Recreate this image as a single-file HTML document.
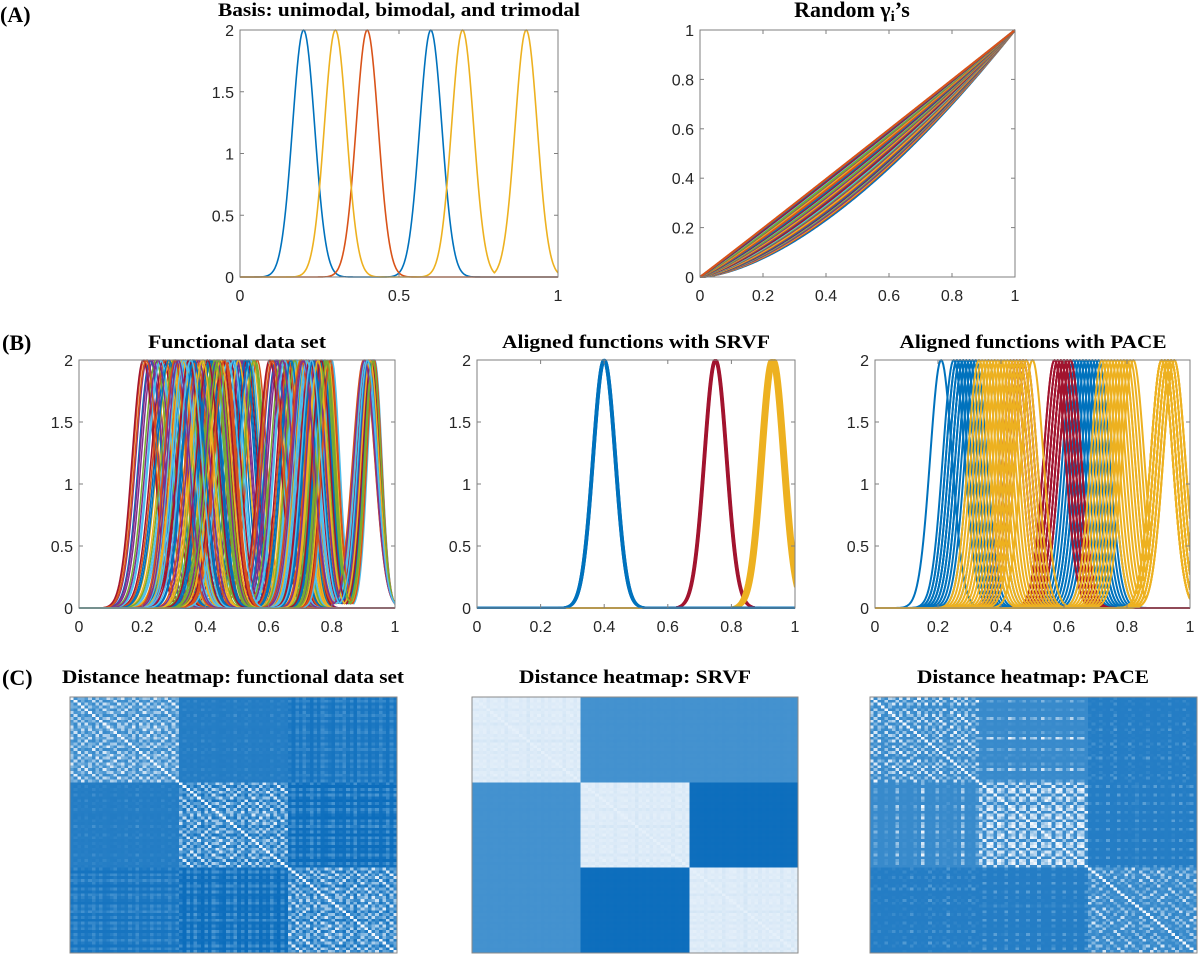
<!DOCTYPE html>
<html><head><meta charset="utf-8"><style>
body{margin:0;background:#fff;}
svg{display:block;}
.tk{font-family:"Liberation Sans",sans-serif;font-size:16px;fill:#262626;}
.ti{font-family:"Liberation Serif",serif;font-size:19px;font-weight:bold;fill:#000;}
.pl{font-family:"Liberation Serif",serif;font-size:22px;font-weight:bold;fill:#000;}
</style></head><body>
<svg id="fig" width="1200" height="955" viewBox="0 0 1200 955" xmlns="http://www.w3.org/2000/svg">
<text class="pl" x="0" y="22">(A)</text>
<text class="pl" x="2" y="350">(B)</text>
<text class="pl" x="2" y="685">(C)</text>
<text class="ti" x="399" y="16" text-anchor="middle" textLength="362" lengthAdjust="spacingAndGlyphs">Basis: unimodal, bimodal, and trimodal</text>
<text class="ti" x="852" y="17" text-anchor="middle" style="font-size:22px">Random γ<tspan style="font-size:15px" dy="4">i</tspan><tspan dy="-4">’s</tspan></text>
<text class="ti" x="237" y="348" text-anchor="middle" textLength="178" lengthAdjust="spacingAndGlyphs">Functional data set</text>
<text class="ti" x="636" y="348" text-anchor="middle" textLength="268" lengthAdjust="spacingAndGlyphs">Aligned functions with SRVF</text>
<text class="ti" x="1033" y="348" text-anchor="middle" textLength="267" lengthAdjust="spacingAndGlyphs">Aligned functions with PACE</text>
<text class="ti" x="233" y="683" text-anchor="middle" textLength="342" lengthAdjust="spacingAndGlyphs">Distance heatmap: functional data set</text>
<text class="ti" x="635" y="683" text-anchor="middle" textLength="232" lengthAdjust="spacingAndGlyphs">Distance heatmap: SRVF</text>
<text class="ti" x="1033" y="683" text-anchor="middle" textLength="232" lengthAdjust="spacingAndGlyphs">Distance heatmap: PACE</text>
</svg>
<script>
// ---- data ----
const basisBimodal = [0.2, 0.6];
const basisUnimodal = [0.4];
const basisTrimodal = [0.3, 0.7, 0.9];
const peakSigma = 0.035;
const gammaExponents = [1.32,1.05,1.48,1.18,1.57,1.26,1.02,1.41,1.11,1.53,1.36,1.22,1.08,1.45,1.29,1.60,1.14,1.38,1.01,1.50,1.24,1.43,1.09,1.34,1.19,1.55,1.28,1.04,1.47,1.16];
const srvfBlue = [0.398,0.400,0.402,0.399,0.401,0.403,0.397,0.400,0.402,0.398];
const srvfRed = [0.748,0.750,0.752,0.749,0.751,0.753,0.747,0.750,0.752,0.748];
const srvfYellow = [0.925,0.930,0.935,0.928,0.932,0.938,0.922,0.930,0.936,0.927];
const paceBlue = [0.27,0.66,0.29,0.21,0.68,0.25,0.30,0.64,0.28,0.70,0.26,0.33,0.67,0.27,0.62,0.29,0.72,0.31,0.65,0.28,0.69,0.36,0.26,0.67,0.30,0.63,0.28,0.71,0.32,0.66];
const paceRed = [0.58,0.44,0.60,0.61,0.47,0.59,0.57,0.43,0.62,0.60,0.46,0.58,0.61,0.48,0.59,0.60,0.45,0.62,0.57,0.59,0.44,0.61,0.60,0.47,0.58,0.62,0.45,0.59,0.60,0.46];
const paceYellow = [0.38,0.76,0.41,0.35,0.79,0.44,0.74,0.33,0.47,0.81,0.40,0.73,0.37,0.50,0.78,0.42,0.36,0.80,0.45,0.75,0.39,0.82,0.34,0.48,0.77,0.43,0.72,0.38,0.46,0.79];
const paceYellow2 = [0.91,0.92,0.93,0.94,0.92,0.95,0.91,0.93,0.92,0.94,0.93,0.92,0.91,0.94,0.93,0.92,0.95,0.93,0.91,0.92,0.94,0.93,0.92,0.91,0.95,0.93,0.92,0.94,0.91,0.93];
const srvfBlockLevels = [[0.05,0.6,0.6],[0.6,0.05,0.97],[0.6,0.97,0.05]];
const srvfJitter = [0.3,0.1,0.5,0.2,0.8,0.4,0.0,0.6,0.2,0.9,0.5,0.3,0.1,0.7,0.4,1.0,0.2,0.6,0.0,0.8,0.3,0.7,0.1,0.5,0.2,0.9,0.4,0.0,0.8,0.2];
const yTicksA1 = [0,0.5,1,1.5,2];
const xTicksA1 = [0,0.5,1];
const ticks01 = [0,0.2,0.4,0.6,0.8,1];
const ticks02 = [0,0.5,1,1.5,2];
const mcolors = ['#0072BD','#D95319','#EDB120','#7E2F8E','#77AC30','#4DBEEE','#A2142F'];

const NS='http://www.w3.org/2000/svg';
const svg=document.getElementById('fig');
function mk(tag,attrs,parent){const e=document.createElementNS(NS,tag);for(const k in attrs)e.setAttribute(k,attrs[k]);(parent||svg).appendChild(e);return e;}
function bump(t,cs){let v=0;for(const c of cs){const d=t-c;v=Math.max(v,2*Math.exp(-d*d/(2*peakSigma*peakSigma)));}return v;}
const NT=300;const grid=[];for(let i=0;i<=NT;i++)grid.push(i/NT);

function makeAxes(name,x0,x1,y0,y1,xd,yd,xt,yt){
  const g=mk('g',{});
  
  
  const sx=v=>x0+(v-xd[0])/(xd[1]-xd[0])*(x1-x0);
  const sy=v=>y1-(v-yd[0])/(yd[1]-yd[0])*(y1-y0);
  const clipId='c'+name;
  const cp=mk('clipPath',{id:clipId},g);mk('rect',{x:x0,y:y0-2,width:x1-x0,height:y1-y0+3},cp);
  const plot=mk('g',{'clip-path':'url(#'+clipId+')'},g);
  
  
  return {g,plot,sx,sy,finish(){
    mk('rect',{x:x0,y:y0,width:x1-x0,height:y1-y0,fill:'none',stroke:'#7f7f7f','stroke-width':1},g);
    for(const v of xt){const x=sx(v);
      mk('line',{x1:x,x2:x,y1:y1,y2:y1-4,stroke:'#7f7f7f'},g);mk('line',{x1:x,x2:x,y1:y0,y2:y0+4,stroke:'#7f7f7f'},g);
      const t=mk('text',{class:'tk',x:x,y:y1+24,'text-anchor':'middle'},g);t.textContent=String(v);
      
      }
    for(const v of yt){const y=sy(v);
      mk('line',{x1:x0,x2:x0+4,y1:y,y2:y,stroke:'#7f7f7f'},g);mk('line',{x1:x1,x2:x1-4,y1:y,y2:y,stroke:'#7f7f7f'},g);
      const t=mk('text',{class:'tk',x:x0-6,y:y+6,'text-anchor':'end'},g);t.textContent=String(v);
      
      }
  }};
}
function curve(ax,fn,color,w,name){
  let d='';grid.forEach((t,i)=>{d+=(i?'L':'M')+ax.sx(t).toFixed(2)+','+ax.sy(fn(t)).toFixed(2);});
  const p=mk('path',{d:d,fill:'none',stroke:color,'stroke-width':w,'stroke-linejoin':'round'},ax.plot);
  
  
  return p;
}
// A1
const a1=makeAxes('basis-chart',240,558,30,277,[0,1],[0,2],xTicksA1,yTicksA1);
curve(a1,t=>bump(t,basisBimodal),mcolors[0],1.6,'basis-bimodal-line');
curve(a1,t=>bump(t,basisUnimodal),mcolors[1],1.6,'basis-unimodal-line');
curve(a1,t=>bump(t,basisTrimodal),mcolors[2],1.6,'basis-trimodal-line');
a1.finish();
// A2
const a2=makeAxes('gamma-chart',700,1015,30,277,[0,1],[0,1],ticks01,ticks01);
gammaExponents.slice().sort((a,b)=>b-a).forEach((a,i)=>curve(a2,t=>Math.pow(t,a),mcolors[i%7],2.2,'gamma-line'));
a2.finish();
// B1 functional data
const bases=[basisUnimodal,basisBimodal,basisTrimodal];
const dataFns=[];
bases.forEach(b=>gammaExponents.forEach(a=>dataFns.push(t=>bump(Math.pow(t,a),b))));
const b1=makeAxes('functional-data-chart',79,395,360,608,[0,1],[0,2],ticks01,ticks02);
dataFns.forEach((f,i)=>curve(b1,f,mcolors[i%7],1.5,'functional-data-line'));
b1.finish();
// B2 SRVF
const b2=makeAxes('srvf-chart',477,795,360,608,[0,1],[0,2],ticks01,ticks02);
srvfBlue.forEach(c=>curve(b2,t=>bump(t,[c]),mcolors[0],2,'srvf-blue-line'));
srvfRed.forEach(c=>curve(b2,t=>bump(t,[c]),mcolors[6],2,'srvf-red-line'));
srvfYellow.forEach(c=>curve(b2,t=>bump(t,[c]),mcolors[2],2,'srvf-yellow-line'));
srvfRed.slice(0,3).forEach(c=>curve(b2,t=>bump(t,[c-0.35]),mcolors[6],1,'srvf-red-line'));
srvfBlue.slice(0,4).forEach(c=>curve(b2,t=>bump(t,[c]),mcolors[0],2.5,'srvf-blue-line'));
b2.finish();
// B3 PACE
const paceFns=[];
paceBlue.forEach(c=>paceFns.push({f:t=>bump(t,[c]),col:mcolors[0]}));
paceRed.forEach(c=>paceFns.push({f:t=>bump(t,[c]),col:mcolors[6]}));
paceYellow.forEach((c,i)=>paceFns.push({f:t=>bump(t,[c,paceYellow2[i]]),col:mcolors[2]}));
const b3=makeAxes('pace-chart',875,1190,360,608,[0,1],[0,2],ticks01,ticks02);
paceFns.slice(0,30).forEach(o=>curve(b3,o.f,o.col,2,'pace-blue-line'));
paceFns.slice(30,60).forEach(o=>curve(b3,o.f,o.col,2,'pace-red-line'));
paceFns.slice(60).forEach(o=>curve(b3,o.f,o.col,2,'pace-yellow-line'));
b3.finish();

// heatmaps
const stops=[[0,[240,246,252]],[0.12,[214,231,246]],[0.55,[76,151,210]],[1,[10,108,188]]];
function cmap(v){v=Math.max(0,Math.min(1,v));for(let i=1;i<stops.length;i++){if(v<=stops[i][0]){const a=stops[i-1],b=stops[i];const u=(v-a[0])/(b[0]-a[0]);const c=a[1].map((x,k)=>Math.round(x+(b[1][k]-x)*u));return 'rgb('+c.join(',')+')';}}return 'rgb(10,108,188)';}
function distMatrix(fns){const S=120;const samp=fns.map(f=>{const a=[];for(let i=0;i<=S;i++)a.push(f(i/S));return a;});
  const n=fns.length;const M=[];let mx=0;for(let i=0;i<n;i++){M.push([]);for(let j=0;j<n;j++){let s=0;for(let k=0;k<=S;k++){const d=samp[i][k]-samp[j][k];s+=d*d;}const v=Math.sqrt(s);M[i].push(v);if(v>mx)mx=v;}}
  return M.map(r=>r.map(v=>v/mx));}
function heat(name,x0,y0,w,h,M){
  const g=mk('g',{'shape-rendering':'crispEdges'});
  
  
  const n=M.length;const cw=w/n,ch=h/n;
  for(let i=0;i<n;i++)for(let j=0;j<n;j++){
    mk('rect',{x:(x0+j*cw).toFixed(2),y:(y0+i*ch).toFixed(2),width:(cw+0.6).toFixed(2),height:(ch+0.6).toFixed(2),fill:cmap(M[i][j])},g);
  }
  mk('rect',{x:x0,y:y0,width:w,height:h,fill:'none',stroke:'#8a8a8a','stroke-width':1},g);
}
const M1=distMatrix(dataFns).map(r=>r.map(v=>Math.pow(v,0.8)));
heat('heatmap-functional-data',70,697,327,256,M1);
const n2=90;const M2=[];
for(let i=0;i<n2;i++){M2.push([]);for(let j=0;j<n2;j++){const gi=Math.floor(i/30),gj=Math.floor(j/30);const ji=srvfJitter[i%30],jj=srvfJitter[j%30];
  let v=srvfBlockLevels[gi][gj];v+= gi===gj ? (i===j?0:0.06*Math.abs(ji-jj)+0.04*(ji+jj)/2) : 0.02*(ji+jj)/2;M2[i].push(v);}}
heat('heatmap-srvf',472,697,326,256,M2);
const M3=distMatrix(paceFns.map(o=>o.f)).map(r=>r.map(v=>0.82*Math.pow(v,0.9)));
heat('heatmap-pace',870,697,327,256,M3);
</script>
</body></html>
